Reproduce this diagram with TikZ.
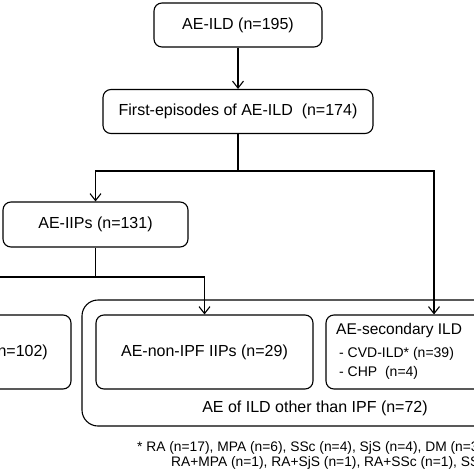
\documentclass[tikz,border=0pt]{standalone}
\usepackage{fontspec}
\setmainfont{Liberation Sans}
\usetikzlibrary{arrows.meta}

\begin{document}
\begin{tikzpicture}[x=1pt,y=-1pt]
    \tikzset{box/.style = {shape=rectangle,draw,rounded corners=8pt,line width=1.1pt,
        inner sep=0pt,font=\fontsize{16}{19}\selectfont}}
    \tikzset{edge/.style = {-{Straight Barb[length=7pt,width=11pt]},line width=1.1pt}}
    \useasboundingbox (0,0) rectangle (474,474);
    \clip (0,0) rectangle (474,474);
    % boxes
    \node[box,minimum width=168pt,minimum height=44pt] (ild) at (238,25) {AE-ILD (n=195)};
    \node[box,minimum width=270pt,minimum height=44pt] (first) at (238,111.5) {First-episodes of AE-ILD~~(n=174)};
    \node[box,minimum width=185pt,minimum height=45pt] (iip) at (95.5,224.5) {AE-IIPs (n=131)};

    \node[box,rounded corners=16pt,minimum width=474pt,minimum height=126pt] (other) at (319,363) {};
    \node[font=\fontsize{16}{19}\selectfont] (otherlbl) at (315,408) {AE of ILD other than IPF (n=72)};

    \node[box,minimum width=158pt,minimum height=74pt] (ipf) at (-8,352) {AE-IPF (n=102)};
    \node[box,minimum width=217pt,minimum height=74pt] (nonipf) at (204.5,352) {AE-non-IPF IIPs (n=29)};
    \node[box,minimum width=216pt,minimum height=74pt] (sec) at (434,352) {};
    \node[anchor=base west,inner sep=0pt,font=\fontsize{15.5}{18}\selectfont] (sectitle) at (336,334) {AE-secondary ILD};
    \node[anchor=base west,inner sep=0pt,font=\fontsize{14}{17}\selectfont] (seccvd) at (339,357) {- CVD-ILD* (n=39)};
    \node[anchor=base west,inner sep=0pt,font=\fontsize{14}{17}\selectfont] (secchp) at (339,376) {- CHP~~(n=4)};

    % footnote
    \node[anchor=base west,inner sep=0pt,font=\fontsize{13.8}{16}\selectfont] (note1) at (137,451)
        {* RA (n=17), MPA (n=6), SSc (n=4), SjS (n=4), DM (n=3),};
    \node[anchor=base west,inner sep=0pt,font=\fontsize{13.8}{16}\selectfont] (note2) at (171,466)
        {RA+MPA (n=1), RA+SjS (n=1), RA+SSc (n=1), SSc+SjS (n=1)};

    % edges
    \coordinate (split1) at (238,171);
    \coordinate (split2) at (95.5,277);
    \draw[edge] (ild) -- (first);
    \draw[line width=1.1pt] (first) -- (split1);
    \draw[edge] (split1) -| (iip.north);
    \draw[edge] (split1) -| (sec.north);
    \draw[line width=1.1pt] (iip) -- (split2);
    \draw[edge] (split2) -| (ipf.north);
    \draw[edge] (split2) -| (nonipf.north);
\end{tikzpicture}
\end{document}
